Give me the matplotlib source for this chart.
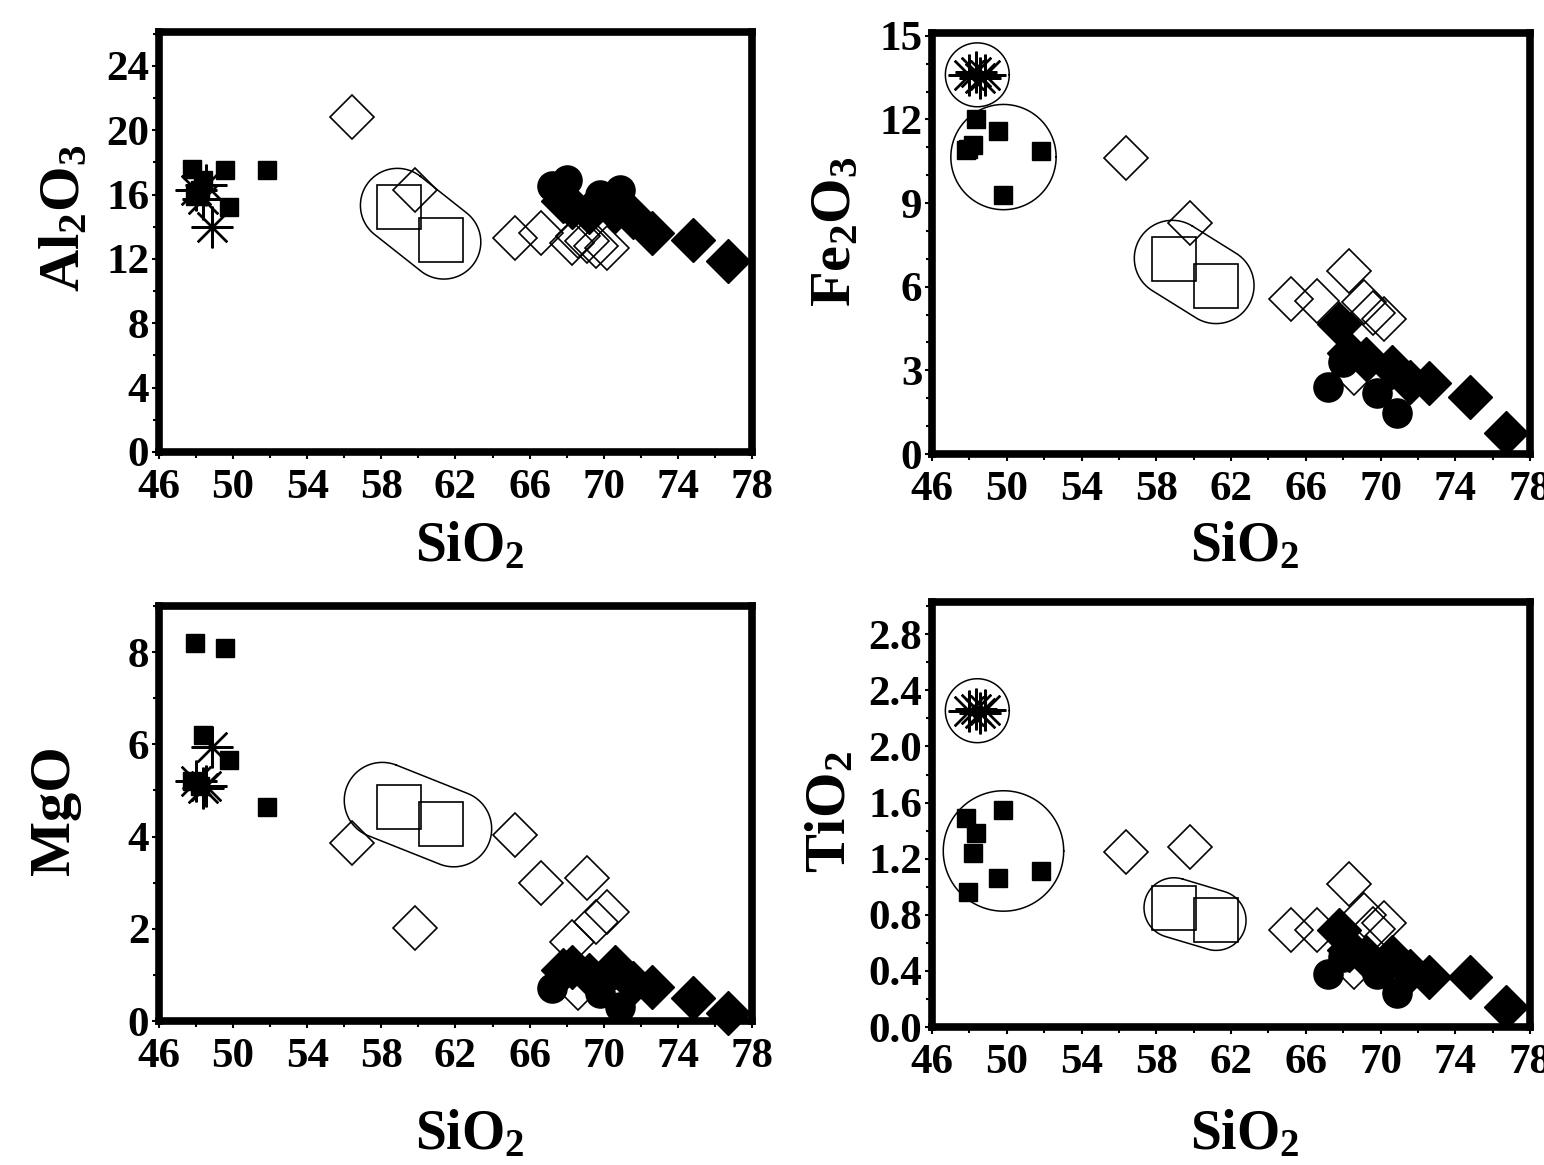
import numpy as np
import matplotlib
matplotlib.use("Agg")
import matplotlib.pyplot as plt
from matplotlib.ticker import MultipleLocator, FormatStrFormatter

plt.rcParams['font.family'] = ['Liberation Serif', 'DejaVu Serif']
plt.rcParams['font.weight'] = 'bold'
plt.rcParams['mathtext.default'] = 'regular'

# ---------------- data (wt %) ----------------
# basalts (small filled squares)
bas_sio2 = [47.8, 47.95, 48.2, 48.35, 49.55, 49.8, 51.85]
bas_al2o3 = [17.6, 15.9, 16.3, 16.9, 17.5, 15.2, 17.5]
bas_fe2o3 = [10.9, 10.95, 11.1, 12.0, 11.6, 9.3, 10.85]
bas_mgo = [5.2, 8.2, 5.1, 6.2, 8.1, 5.66, 4.64]
bas_tio2 = [1.49, 0.96, 1.24, 1.38, 1.06, 1.55, 1.11]

# high-Ti basalts (asterisks)
ast_sio2 = [48.0, 48.35, 48.55, 48.85]
ast_al2o3 = [16.3, 15.7, 16.6, 14.0]
ast_fe2o3 = [13.6, 13.7, 13.5, 13.6]
ast_mgo = [5.2, 5.05, 5.1, 5.95]
ast_tio2 = [2.25, 2.27, 2.24, 2.26]

# andesites (large open squares)
osq_sio2 = [58.95, 61.2]
osq_al2o3 = [15.25, 13.2]
osq_fe2o3 = [6.98, 6.04]
osq_mgo = [4.64, 4.28]
osq_tio2 = [0.85, 0.76]

# open diamonds
odi_sio2 = [56.4, 59.8, 65.2, 66.6, 68.3, 69.1, 69.6, 70.2, 68.6]
odi_al2o3 = [20.8, 16.3, 13.3, 13.6, 13.0, 13.1, 12.8, 12.7, 13.4]
odi_fe2o3 = [10.6, 8.3, 5.55, 5.5, 6.55, 5.45, 5.05, 4.85, 2.9]
odi_mgo = [3.86, 2.02, 4.03, 2.99, 1.72, 3.1, 2.15, 2.37, 0.71]
odi_tio2 = [1.25, 1.28, 0.69, 0.69, 1.02, 0.8, 0.7, 0.74, 0.43]

# filled circles
fci_sio2 = [67.2, 68.0, 69.8, 70.9]
fci_al2o3 = [16.5, 16.9, 16.0, 16.3]
fci_fe2o3 = [2.41, 3.3, 2.18, 1.46]
fci_mgo = [0.71, 1.18, 0.6, 0.31]
fci_tio2 = [0.38, 0.5, 0.38, 0.24]

# filled diamonds
fdi_sio2 = [67.8, 68.3, 69.2, 70.6, 71.6, 72.6, 74.8, 76.7]
fdi_al2o3 = [15.6, 15.2, 14.9, 15.0, 14.6, 13.6, 13.2, 11.9]
fdi_fe2o3 = [4.68, 3.61, 3.4, 3.13, 2.6, 2.53, 2.05, 0.74]
fdi_mgo = [1.1, 1.18, 1.0, 1.18, 0.82, 0.74, 0.49, 0.17]
fdi_tio2 = [0.69, 0.55, 0.5, 0.5, 0.4, 0.36, 0.36, 0.145]

x_ticks = [46, 50, 54, 58, 62, 66, 70, 74, 78]

# ---------------- figure ----------------
W, H = 1544, 1165
fig = plt.figure(figsize=(W / 100, H / 100), dpi=100)
fig.patch.set_facecolor('white')


def rect(l, r, t, b):
    return [l / W, 1 - b / H, (r - l) / W, (b - t) / H]


panels = [
    dict(rect=rect(159, 752, 32, 452), key='al', ylim=(0, 26.1), major=4, minor=2, fmt='%d',
         ylabel='Al$_2$O$_3$', ylab_pos=(65, 218), xlab_pos=(470, 547),
         cap=(37, 2, 4), circles=False),
    dict(rect=rect(932, 1530, 33, 454), key='fe', ylim=(0, 15.1), major=3, minor=1, fmt='%d',
         ylabel='Fe$_2$O$_3$', ylab_pos=(836, 232), xlab_pos=(1245, 547),
         cap=(38, 2, 0), circles=True),
    dict(rect=rect(159, 752, 606, 1021), key='mg', ylim=(0, 9.0), major=2, minor=1, fmt='%d',
         ylabel='MgO', ylab_pos=(55, 810), xlab_pos=(470, 1135),
         cap=(38, 18, 14), circles=False),
    dict(rect=rect(932, 1530, 602, 1027), key='ti', ylim=(0, 3.03), major=0.4, minor=0.2, fmt='%.1f',
         ylabel='TiO$_2$', ylab_pos=(831, 812), xlab_pos=(1245, 1135),
         cap=(30, 0, 0), circles=True),
]

series_y = {
    'al': (bas_al2o3, ast_al2o3, osq_al2o3, odi_al2o3, fci_al2o3, fdi_al2o3),
    'fe': (bas_fe2o3, ast_fe2o3, osq_fe2o3, odi_fe2o3, fci_fe2o3, fdi_fe2o3),
    'mg': (bas_mgo, ast_mgo, osq_mgo, odi_mgo, fci_mgo, fdi_mgo),
    'ti': (bas_tio2, ast_tio2, osq_tio2, odi_tio2, fci_tio2, fdi_tio2),
}


def to_disp(ax, xs, ys):
    return ax.transData.transform(np.column_stack([xs, ys]))


def draw_disp(ax, pts):
    d = ax.transData.inverted().transform(pts)
    ax.plot(d[:, 0], d[:, 1], color='black', lw=1.1, clip_on=False, zorder=2)


def circle_around(ax, xs, ys, pad):
    P = to_disp(ax, xs, ys)
    c = (P.min(0) + P.max(0)) / 2
    r = np.max(np.hypot(*(P - c).T)) + pad
    t = np.linspace(0, 2 * np.pi, 240)
    draw_disp(ax, c + r * np.column_stack([np.cos(t), np.sin(t)]))


def capsule_around(ax, xs, ys, r, e1, e2):
    P = to_disp(ax, xs, ys)
    a, b = P[0].copy(), P[1].copy()
    d = (b - a) / np.linalg.norm(b - a)
    a = a - d * e1
    b = b + d * e2
    ang = np.arctan2(d[1], d[0])
    t1 = np.linspace(ang + np.pi / 2, ang + 3 * np.pi / 2, 80)
    t2 = np.linspace(ang - np.pi / 2, ang + np.pi / 2, 80)
    pts = np.vstack([a + r * np.column_stack([np.cos(t1), np.sin(t1)]),
                     b + r * np.column_stack([np.cos(t2), np.sin(t2)])])
    pts = np.vstack([pts, pts[:1]])
    draw_disp(ax, pts)


for p in panels:
    ax = fig.add_axes(p['rect'])
    ax.set_xlim(46, 78)
    ax.set_ylim(*p['ylim'])
    bas_y, ast_y, osq_y, odi_y, fci_y, fdi_y = series_y[p['key']]

    ax.plot(osq_sio2, osq_y, 's', ms=32, mfc='none', mec='black', mew=1.2, clip_on=False, zorder=3)
    ax.plot(odi_sio2, odi_y, 'D', ms=22, mfc='none', mec='black', mew=1.2, clip_on=False, zorder=3)
    ax.plot(fci_sio2, fci_y, 'o', ms=21, color='black', clip_on=False, zorder=4)
    ax.plot(fdi_sio2, fdi_y, 'D', ms=22, color='black', clip_on=False, zorder=5)
    ax.plot(bas_sio2, bas_y, 's', ms=12.5, color='black', clip_on=False, zorder=6)
    ax.plot(ast_sio2, ast_y, marker=(8, 2, 0), ls='none', ms=30, mec='black', mew=1.7,
            clip_on=False, zorder=7)

    fig.canvas.draw()
    capsule_around(ax, osq_sio2, osq_y, *p['cap'])
    if p['circles']:
        circle_around(ax, bas_sio2, bas_y, 6)
        circle_around(ax, ast_sio2, ast_y, 24)

    for s in ax.spines.values():
        s.set_linewidth(5.5)
        s.set_color('black')
        s.set_zorder(8)
    ax.set_xticks(x_ticks)
    ax.xaxis.set_minor_locator(MultipleLocator(2))
    ax.yaxis.set_major_locator(MultipleLocator(p['major']))
    ax.yaxis.set_minor_locator(MultipleLocator(p['minor']))
    ax.yaxis.set_major_formatter(FormatStrFormatter(p['fmt']))
    ax.tick_params(which='both', direction='out', width=1.5, colors='black')
    ax.tick_params(which='major', length=5)
    ax.tick_params(which='minor', length=4)
    ax.tick_params(axis='x', which='major', labelsize=31, pad=7)
    ax.tick_params(axis='y', which='major', labelsize=31, pad=2)
    for lab in ax.get_xticklabels() + ax.get_yticklabels():
        lab.set_fontweight('bold')

    fig.text(p['ylab_pos'][0] / W, 1 - p['ylab_pos'][1] / H, p['ylabel'], rotation=90,
             ha='center', va='center', fontsize=42, fontweight='bold')
    fig.text(p['xlab_pos'][0] / W, 1 - p['xlab_pos'][1] / H, 'SiO$_2$',
             ha='center', va='center', fontsize=40, fontweight='bold')

fig.savefig('out.png', dpi=100, facecolor='white')
